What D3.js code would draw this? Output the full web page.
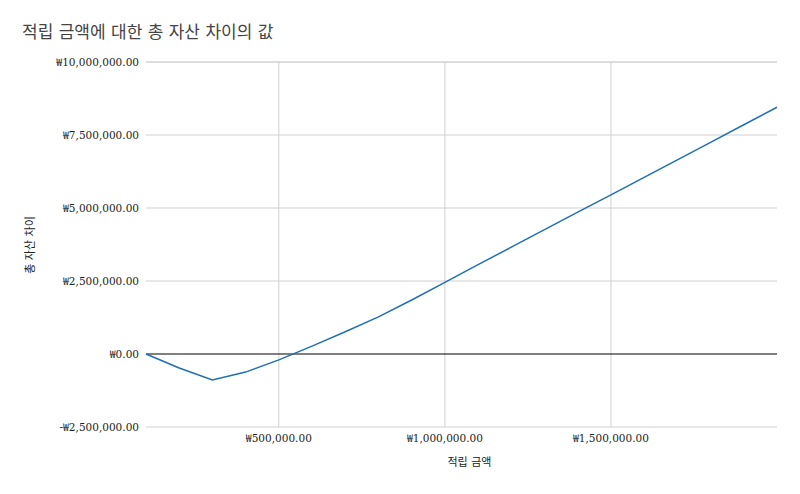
<!DOCTYPE html>
<html>
<head>
<meta charset="utf-8">
<script src="https://cdn.jsdelivr.net/npm/d3@7"></script>
<style>
  body { margin: 0; background: #fff; }
  text { font-family: "DejaVu Serif", "Noto Sans CJK KR", serif; }
</style>
</head>
<body>
<div id="chart"></div>
<script>
// 적립 금액 (x) and 총 자산 차이 (y)
var deposits = [100000, 200000, 300000, 400000, 500000, 600000, 700000, 800000, 900000, 1000000,
                1100000, 1200000, 1300000, 1400000, 1500000, 1600000, 1700000, 1800000, 1900000, 2000000];
var diffs = [0, -480000, -890000, -620000, -200000, 270000, 760000, 1270000, 1850000, 2450000,
             3060000, 3660000, 4260000, 4860000, 5450000, 6050000, 6650000, 7250000, 7850000, 8450000];
var yTicks = [-2500000, 0, 2500000, 5000000, 7500000, 10000000];
var xTicks = [500000, 1000000, 1500000];

var width = 800, height = 494;
var m = {left: 146, right: 23, top: 62, bottom: 67};

var svg = d3.select("#chart").append("svg").attr("width", width).attr("height", height);

var x = d3.scaleLinear().domain([100000, 2000000]).range([m.left, width - m.right]);
var y = d3.scaleLinear().domain([-2500000, 10000000]).range([height - m.bottom, m.top]);

var fmt = function(v) {
  var s = d3.format(",.2f")(Math.abs(v));
  return (v < 0 ? "-" : "") + "₩" + s;
};

// vertical gridlines
svg.selectAll(".vg").data(xTicks).enter().append("line")
  .attr("x1", d => x(d)).attr("x2", d => x(d))
  .attr("y1", m.top).attr("y2", height - m.bottom)
  .style("stroke", "#d0d0d0");

// horizontal gridlines
svg.selectAll(".hg").data(yTicks).enter().append("line")
  .attr("x1", m.left).attr("x2", width - m.right)
  .attr("y1", d => y(d)).attr("y2", d => y(d))
  .style("stroke", d => d === 0 ? "#000" : (d === 10000000 ? "#bbb" : "#d0d0d0"));

svg.selectAll(".yl").data(yTicks).enter().append("text")
  .attr("x", m.left - 7).attr("y", d => y(d) + 4)
  .attr("text-anchor", "end").style("font-size", "10.5px").style("fill", "#222")
  .text(fmt);

svg.selectAll(".xl").data(xTicks).enter().append("text")
  .attr("x", d => x(d)).attr("y", height - m.bottom + 15)
  .attr("text-anchor", "middle").style("font-size", "10.5px").style("fill", "#222")
  .text(fmt);

var line = d3.line().x((d, i) => x(deposits[i])).y(d => y(d));
svg.append("path").datum(diffs).attr("d", line)
  .style("fill", "none").style("stroke", "#1f6fb5").style("stroke-width", 1.5);

svg.append("text").attr("x", 22).attr("y", 38)
  .style("font-size", "17px").style("fill", "#444")
  .text("적립 금액에 대한 총 자산 차이의 값");

svg.append("text").attr("x", (m.left + width - m.right) / 2 + 8).attr("y", 466)
  .attr("text-anchor", "middle").style("font-size", "11px").style("fill", "#222")
  .text("적립 금액");

svg.append("text").attr("transform", "translate(34,245) rotate(-90)")
  .attr("text-anchor", "middle").style("font-size", "11px").style("fill", "#222")
  .text("총 자산 차이");
</script>
</body>
</html>
